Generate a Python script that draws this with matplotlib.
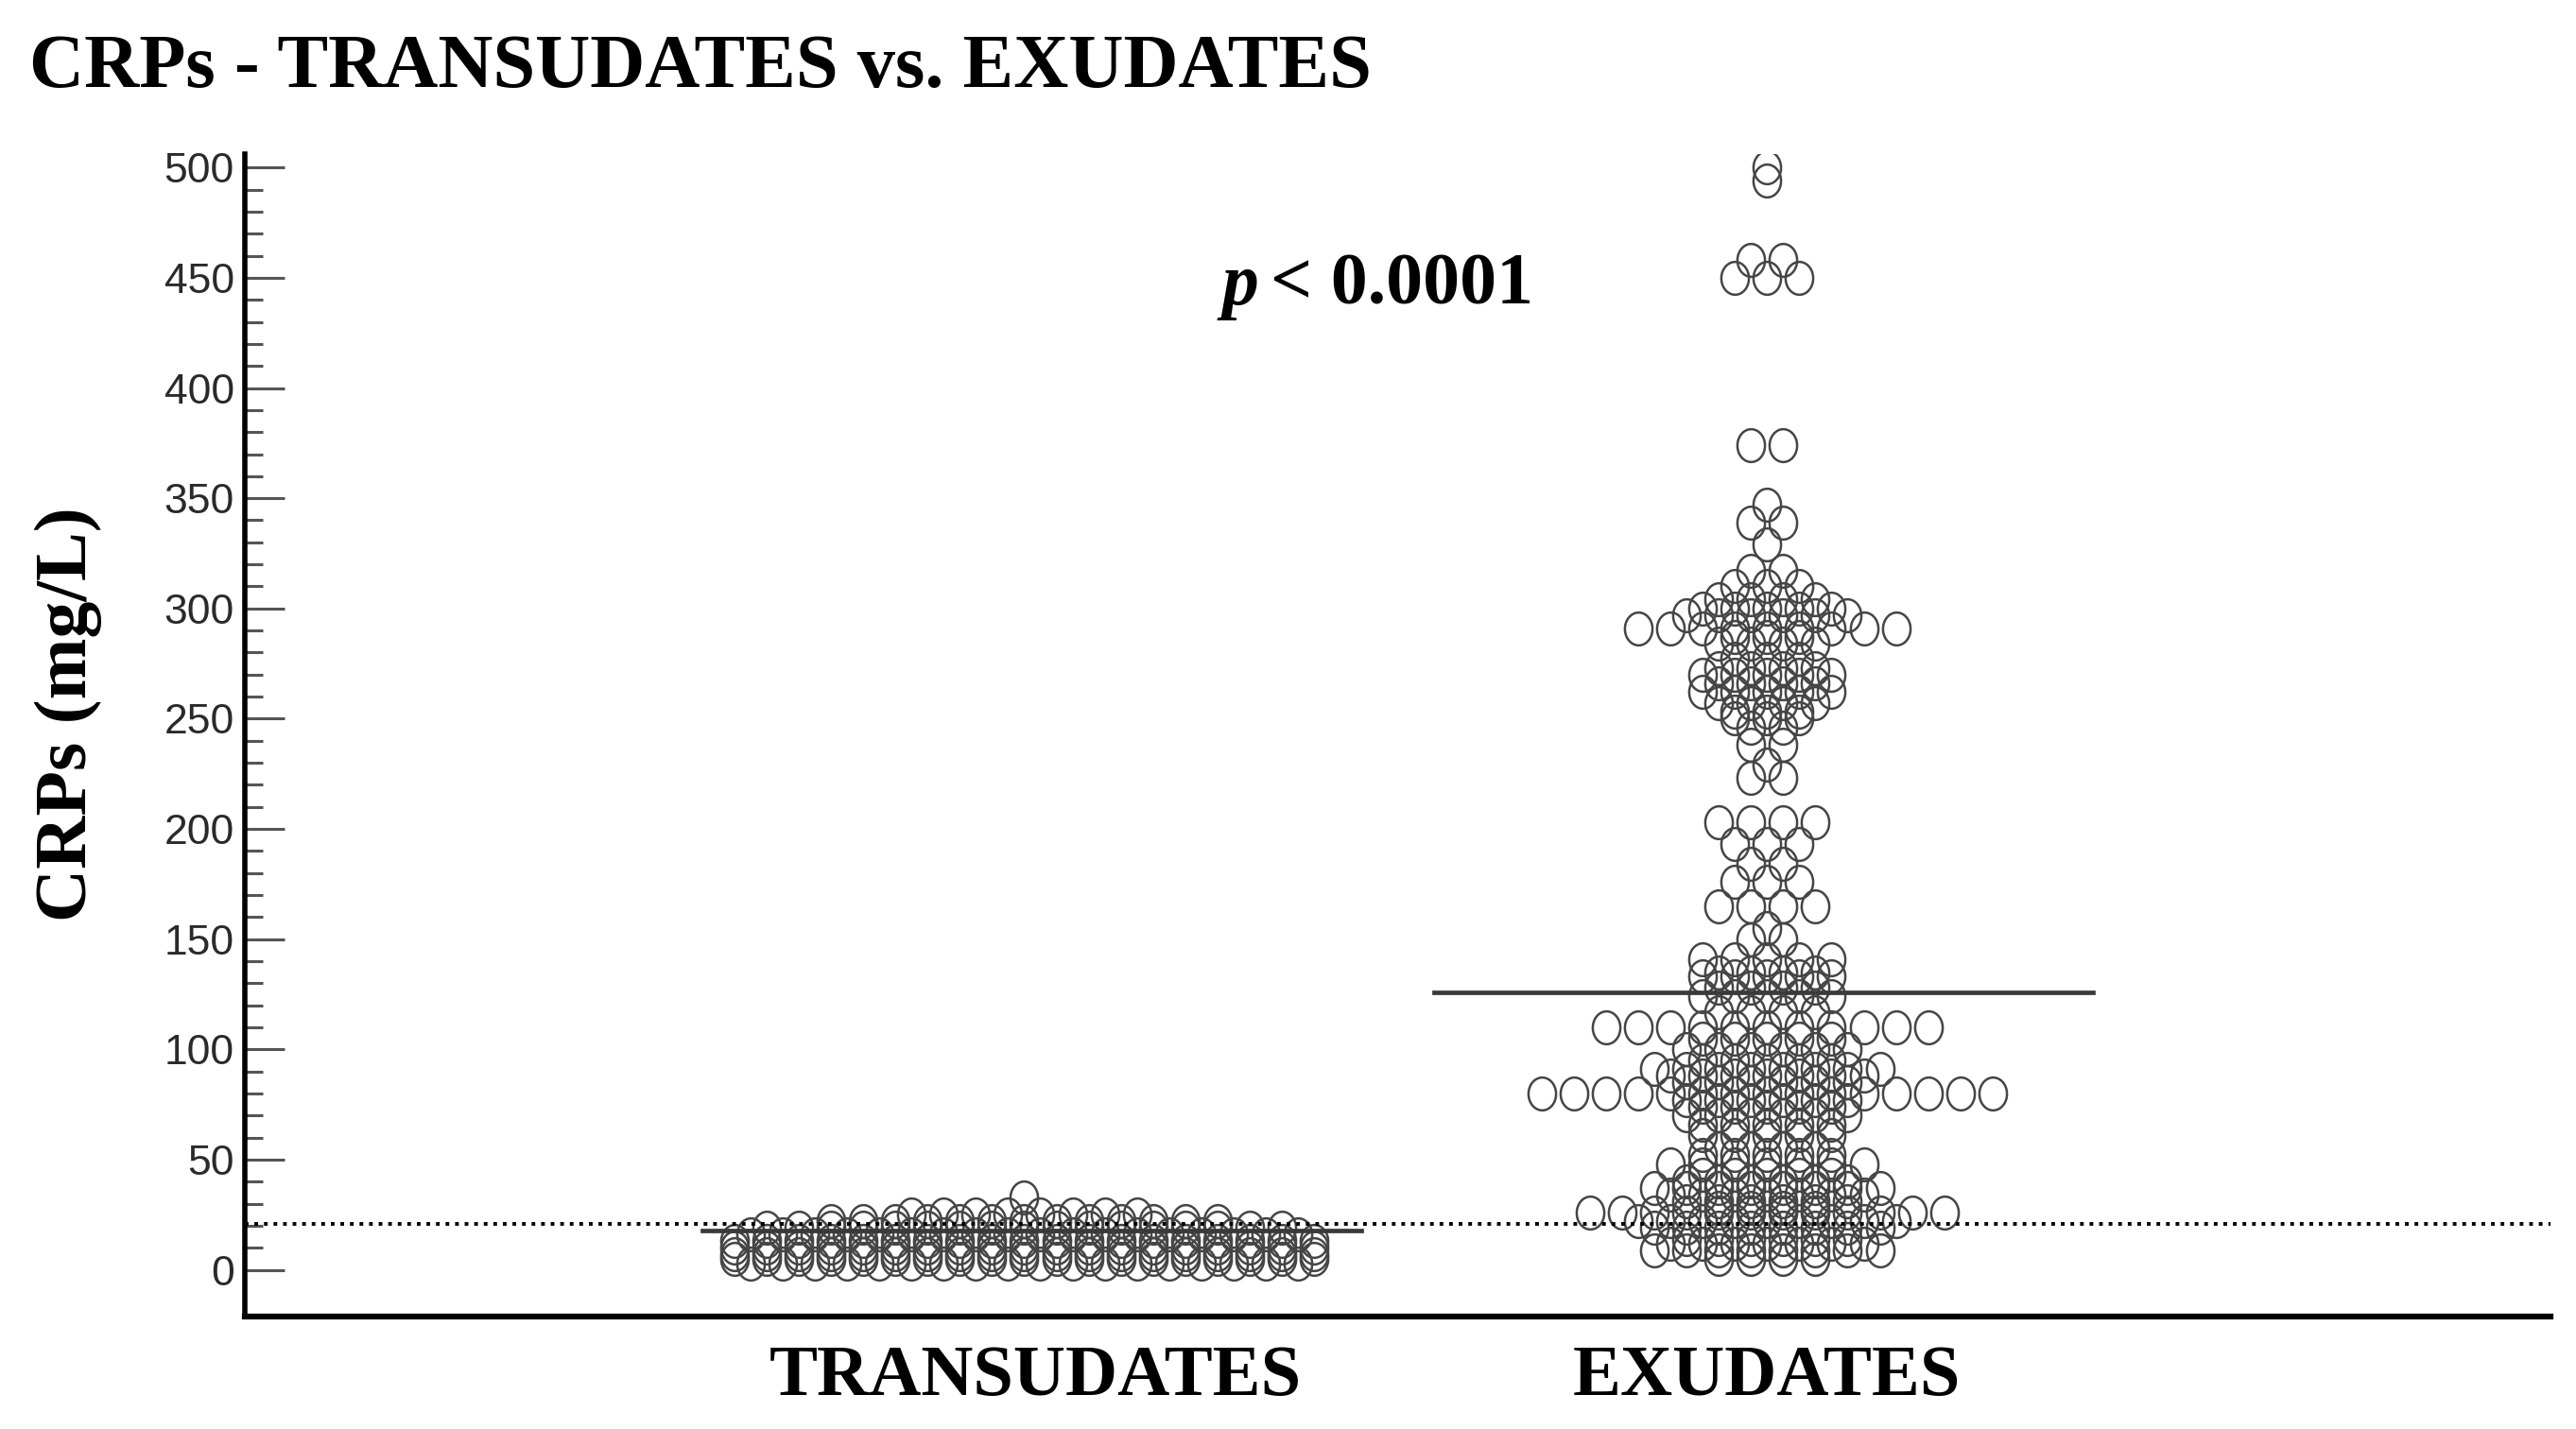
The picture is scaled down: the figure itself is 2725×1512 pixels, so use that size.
import matplotlib
matplotlib.use('Agg')
import matplotlib.pyplot as plt
import numpy as np
from matplotlib.path import Path

categories = ['TRANSUDATES', 'EXUDATES']

# CRP values (mg/L), with how many dots sit on each row
trans_values = [33, 25, 22, 19, 16, 13, 10, 7, 5, 3]
trans_counts = [1, 8, 13, 17, 18, 19, 19, 19, 19, 18]

exud_values = [500, 494, 458, 450, 374, 347, 339, 329, 317, 310, 304, 300, 297, 291,
               287, 284, 277, 273, 270, 266, 262, 257, 253, 250, 246, 238, 229, 223,
               203, 193, 184, 176, 165, 155, 150, 141, 135, 133, 128, 124, 117, 110,
               105, 100, 95, 91, 88, 85, 80, 77, 74, 70, 66, 61, 55, 52, 48, 43, 40,
               37, 34, 31, 28, 26, 22, 19, 14, 12, 9, 5]
exud_counts = [1, 1, 2, 3, 2, 1, 2, 1, 2, 3, 4, 5, 6, 9,
               3, 4, 3, 4, 5, 4, 5, 4, 3, 3, 2, 2, 1, 2,
               4, 3, 2, 3, 4, 1, 2, 5, 4, 5, 4, 5, 4, 11,
               5, 6, 5, 8, 7, 6, 15, 6, 5, 6, 5, 5, 4, 5, 7, 5, 6,
               8, 7, 6, 4, 12, 9, 8, 6, 7, 8, 4]

center_lines = [18, 126]
cutoff = 21
yticks = list(range(0, 501, 50))
p_text = '< 0.0001'

step = 0.044  # horizontal spacing between dots of one row


def spread(values, counts):
    xs, ys = [], []
    for v, n in zip(values, counts):
        for i in range(n):
            xs.append((i - (n - 1) / 2) * step)
            ys.append(v)
    return np.array(xs), np.array(ys)


t = np.linspace(0, 2 * np.pi, 60)
oval = Path(np.column_stack([0.42 * np.cos(t), 0.5 * np.sin(t)]))

serif = ['Liberation Serif', 'DejaVu Serif']
sans = ['Liberation Sans Narrow', 'Liberation Sans', 'DejaVu Sans']

fig = plt.figure(figsize=(27.25, 15.12), dpi=100)
ax = fig.add_axes([0.095, 0.079, 0.895, 0.813])

for pos, vals, cnts in [(0.985, trans_values, trans_counts), (2, exud_values, exud_counts)]:
    xs, ys = spread(vals, cnts)
    ax.plot(pos + xs, ys, linestyle='none', marker=oval, markersize=25,
            mfc='none', mec='#454545', mew=1.8)

for pos, m in zip([1, 2], center_lines):
    ax.plot([pos - 0.455, pos + 0.445], [m, m], color='#3a3a3a', lw=3.4)

ax.axhline(cutoff, color='black', lw=2.8, linestyle=(0, (1, 1.6)))

ax.text(1.255, 446, 'p', fontsize=56, fontweight='bold', fontstyle='italic',
        family=serif, va='center', ha='left')
ax.text(1.322, 446, p_text, fontsize=56, fontweight='bold', family=serif,
        va='center', ha='left')

ax.set_xlim(-0.08, 3.07)
ax.set_ylim(-21, 506)
ax.set_xticks([1, 2])
ax.set_xticklabels(categories, fontsize=55, fontweight='bold', family=serif)
ax.tick_params(axis='x', length=0, pad=22)
ax.set_yticks(yticks)
ax.set_yticks(range(0, 501, 10), minor=True)
ax.set_yticklabels([str(v) for v in yticks], fontsize=32, family=sans, color='#2a2a2a')
ax.tick_params(axis='y', which='major', direction='in', length=30, width=2.2,
               color='#555555', pad=8)
ax.tick_params(axis='y', which='minor', direction='in', length=14, width=2.2,
               color='#555555')

for s in ['top', 'right']:
    ax.spines[s].set_visible(False)
ax.spines['left'].set_linewidth(4)
ax.spines['bottom'].set_linewidth(4.5)

ax.set_ylabel('CRPs (mg/L)', fontsize=56, fontweight='bold', family=serif)
ax.yaxis.set_label_coords(-0.062, 0.518)
fig.text(0.0115, 0.952, 'CRPs - TRANSUDATES vs. EXUDATES', fontsize=58,
         fontweight='bold', family=serif, va='center', ha='left')

fig.savefig('out.png', dpi=100)
